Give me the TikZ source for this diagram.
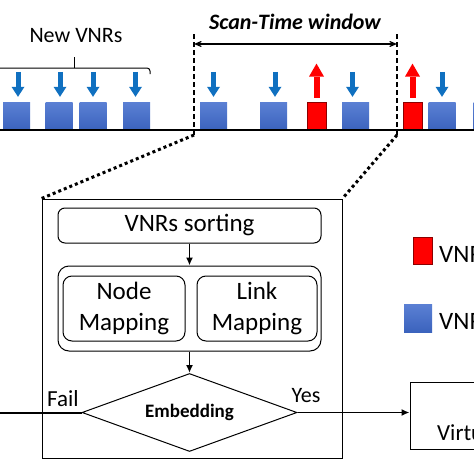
\documentclass[tikz,border=0pt]{standalone}
\usepackage{fontspec}
\setmainfont{Carlito}
\usepackage{tikz}
\usetikzlibrary{calc}
\usetikzlibrary{arrows,arrows.meta,shapes}
\usetikzlibrary{positioning}
\definecolor{vnrtop}{HTML}{5B80D4}
\definecolor{vnrbot}{HTML}{3B63BD}
\definecolor{inblue}{HTML}{1070C0}
\definecolor{outred}{HTML}{FF0000}
\tikzstyle{vnr}=[rectangle, inner sep=0, minimum width=27pt, minimum height=28pt,
                top color=vnrtop, bottom color=vnrbot, draw=none]
\tikzstyle{vnrout}=[rectangle, inner sep=0, minimum width=19pt, minimum height=28pt,
                fill=outred, draw=red!55!black, line width=0.8pt]
\tikzstyle{inarr}=[draw=inblue, line width=5pt, -{Triangle[width=13pt,length=10pt,line width=0pt]}]
\tikzstyle{outarr}=[draw=outred, line width=6pt, -{Triangle[width=15pt,length=13pt,line width=0pt]}]
\tikzstyle{plainbox}=[rectangle, draw, line width=1pt, inner sep=0]
\tikzstyle{rbox}=[plainbox, rounded corners=7pt, align=center]
\tikzstyle{flow}=[-{Latex[length=8pt,width=7pt]}, line width=1.6pt]
\tikzstyle{winline}=[line width=2pt, dash pattern=on 5pt off 3pt]
\tikzstyle{zoomline}=[line width=3pt, dash pattern=on 3pt off 3pt]

\begin{document}
\begin{tikzpicture}[x=1pt,y=-1pt,font=\fontsize{25}{31}\selectfont]
\useasboundingbox (0,0) rectangle (474,474);
\clip (0,0) rectangle (474,474);
% time line with the requests
\node[vnr] (v1) at (16.5,116) {};
\node[vnr] (v2) at (59,116) {};
\node[vnr] (v3) at (93,116) {};
\node[vnr] (v4) at (136.5,116) {};
\node[vnr] (v5) at (213.5,116) {};
\node[vnr] (v6) at (273.5,116) {};
\node[vnrout] (r1) at (316.5,116) {};
\node[vnr] (v7) at (355.5,116) {};
\node[vnrout] (r2) at (412.5,116) {};
\node[vnr] (v8) at (442,116) {};
\node[vnr] (v9) at (487,116) {};
\draw[inarr] ($(v1.north)+(1.5,-30)$) -- ($(v1.north)+(1.5,-5)$);
\draw[inarr] ($(v2.north)+(1,-30)$) -- ($(v2.north)+(1,-5)$);
\draw[inarr] ($(v3.north)+(0,-30)$) -- ($(v3.north)+(0,-5)$);
\draw[inarr] ($(v4.north)+(-1,-30)$) -- ($(v4.north)+(-1,-5)$);
\draw[inarr] ($(v5.north)+(0,-30)$) -- ($(v5.north)+(0,-5)$);
\draw[inarr] ($(v6.north)+(1.5,-30)$) -- ($(v6.north)+(1.5,-5)$);
\draw[inarr] ($(v7.north)+(-3,-30)$) -- ($(v7.north)+(-3,-5)$);
\draw[inarr] ($(v8.north)+(0,-30)$) -- ($(v8.north)+(0,-5)$);
\draw[outarr] ($(r1.north)+(0,-4)$) -- ($(r1.north)+(0,-38)$);
\draw[outarr] ($(r2.north)+(0,-4)$) -- ($(r2.north)+(0,-38)$);
\coordinate (tl) at (0,130);
\coordinate (tr) at (474,130);
\draw[line width=2pt] (tl) -- (tr);
% new requests
\node (newtxt) at (76,36) {\fontsize{22}{26}\selectfont New VNRs};
\coordinate (nb0) at (-5,68);
\coordinate (nb1) at (150,68);
\coordinate (nb2) at (150,74);
\coordinate (nbm) at (74,68);
\coordinate (nbt) at (74,57);
\draw[line width=1pt, rounded corners=3pt] (nb0) -- (nb1) -- (nb2);
\draw[line width=1pt] (nbm) -- (nbt);
% scan window
\coordinate (w1b) at (194,135);
\coordinate (w1t) at (194,33);
\coordinate (w2b) at (397,135);
\coordinate (w2t) at (397,33);
\coordinate (s1) at (194,44);
\coordinate (s2) at (397,44);
\draw[winline] (w1b) -- (w1t);
\draw[winline] (w2b) -- (w2t);
\draw[<->, >=angle 45, line width=1.2pt] (s1) -- (s2);
\node (scan) at (295,22) {\fontsize{22}{26}\selectfont\bfseries\itshape Scan-Time window};
% embedding block
\node[plainbox, minimum width=300pt, minimum height=259pt] (frame) at (192,328.5) {};
\draw[zoomline] (w1b) -- (frame.north west);
\draw[zoomline] (w2b) -- (frame.north east);
\node[rbox, minimum width=263pt, minimum height=35pt] (sort) at (189.5,225.5) {VNRs sorting};
\node[plainbox, rounded corners=11pt, minimum width=263pt, minimum height=85pt] (map) at (189.5,308.5) {};
\node[rbox, rounded corners=9pt, minimum width=122pt, minimum height=65pt] (nmap) at (124,308.5) {Node\\Mapping};
\node[rbox, rounded corners=9pt, minimum width=120pt, minimum height=65pt] (lmap) at (257,308.5) {Link\\Mapping};
\node[diamond, draw, line width=1pt, inner sep=0, aspect=2.76, minimum width=215pt, minimum height=78pt,
      font=\fontsize{19}{23}\selectfont\bfseries] (emb) at (189.5,412.5) {Embedding};
\draw[flow] (sort) -- (map);
\draw[flow] (map) -- (emb);
\coordinate (fail) at (0,412.5);
\draw[line width=2pt] (emb.west) -- (fail);
\node (failtxt) at (63,399) {\fontsize{23}{28}\selectfont Fail};
\node[plainbox, minimum width=90pt, minimum height=67pt] (virt) at (455,415.5) {};
\node[anchor=west, inner sep=0] (virttxt) at (437,433) {\fontsize{23}{28}\selectfont Virtual};
\draw[flow] (emb.east) -- (emb.east -| virt.west);
\node (yestxt) at (306,396) {\fontsize{22}{26}\selectfont Yes};
% legend
\node[vnrout, minimum height=27pt] (legout) at (422.5,250.5) {};
\node[anchor=west, inner sep=0] (legouttxt) at (439,254) {VNR};
\node[vnr, minimum width=28pt] (legin) at (418,318) {};
\node[anchor=west, inner sep=0] (legintxt) at (439,321) {VNR};
\end{tikzpicture}
\end{document}
